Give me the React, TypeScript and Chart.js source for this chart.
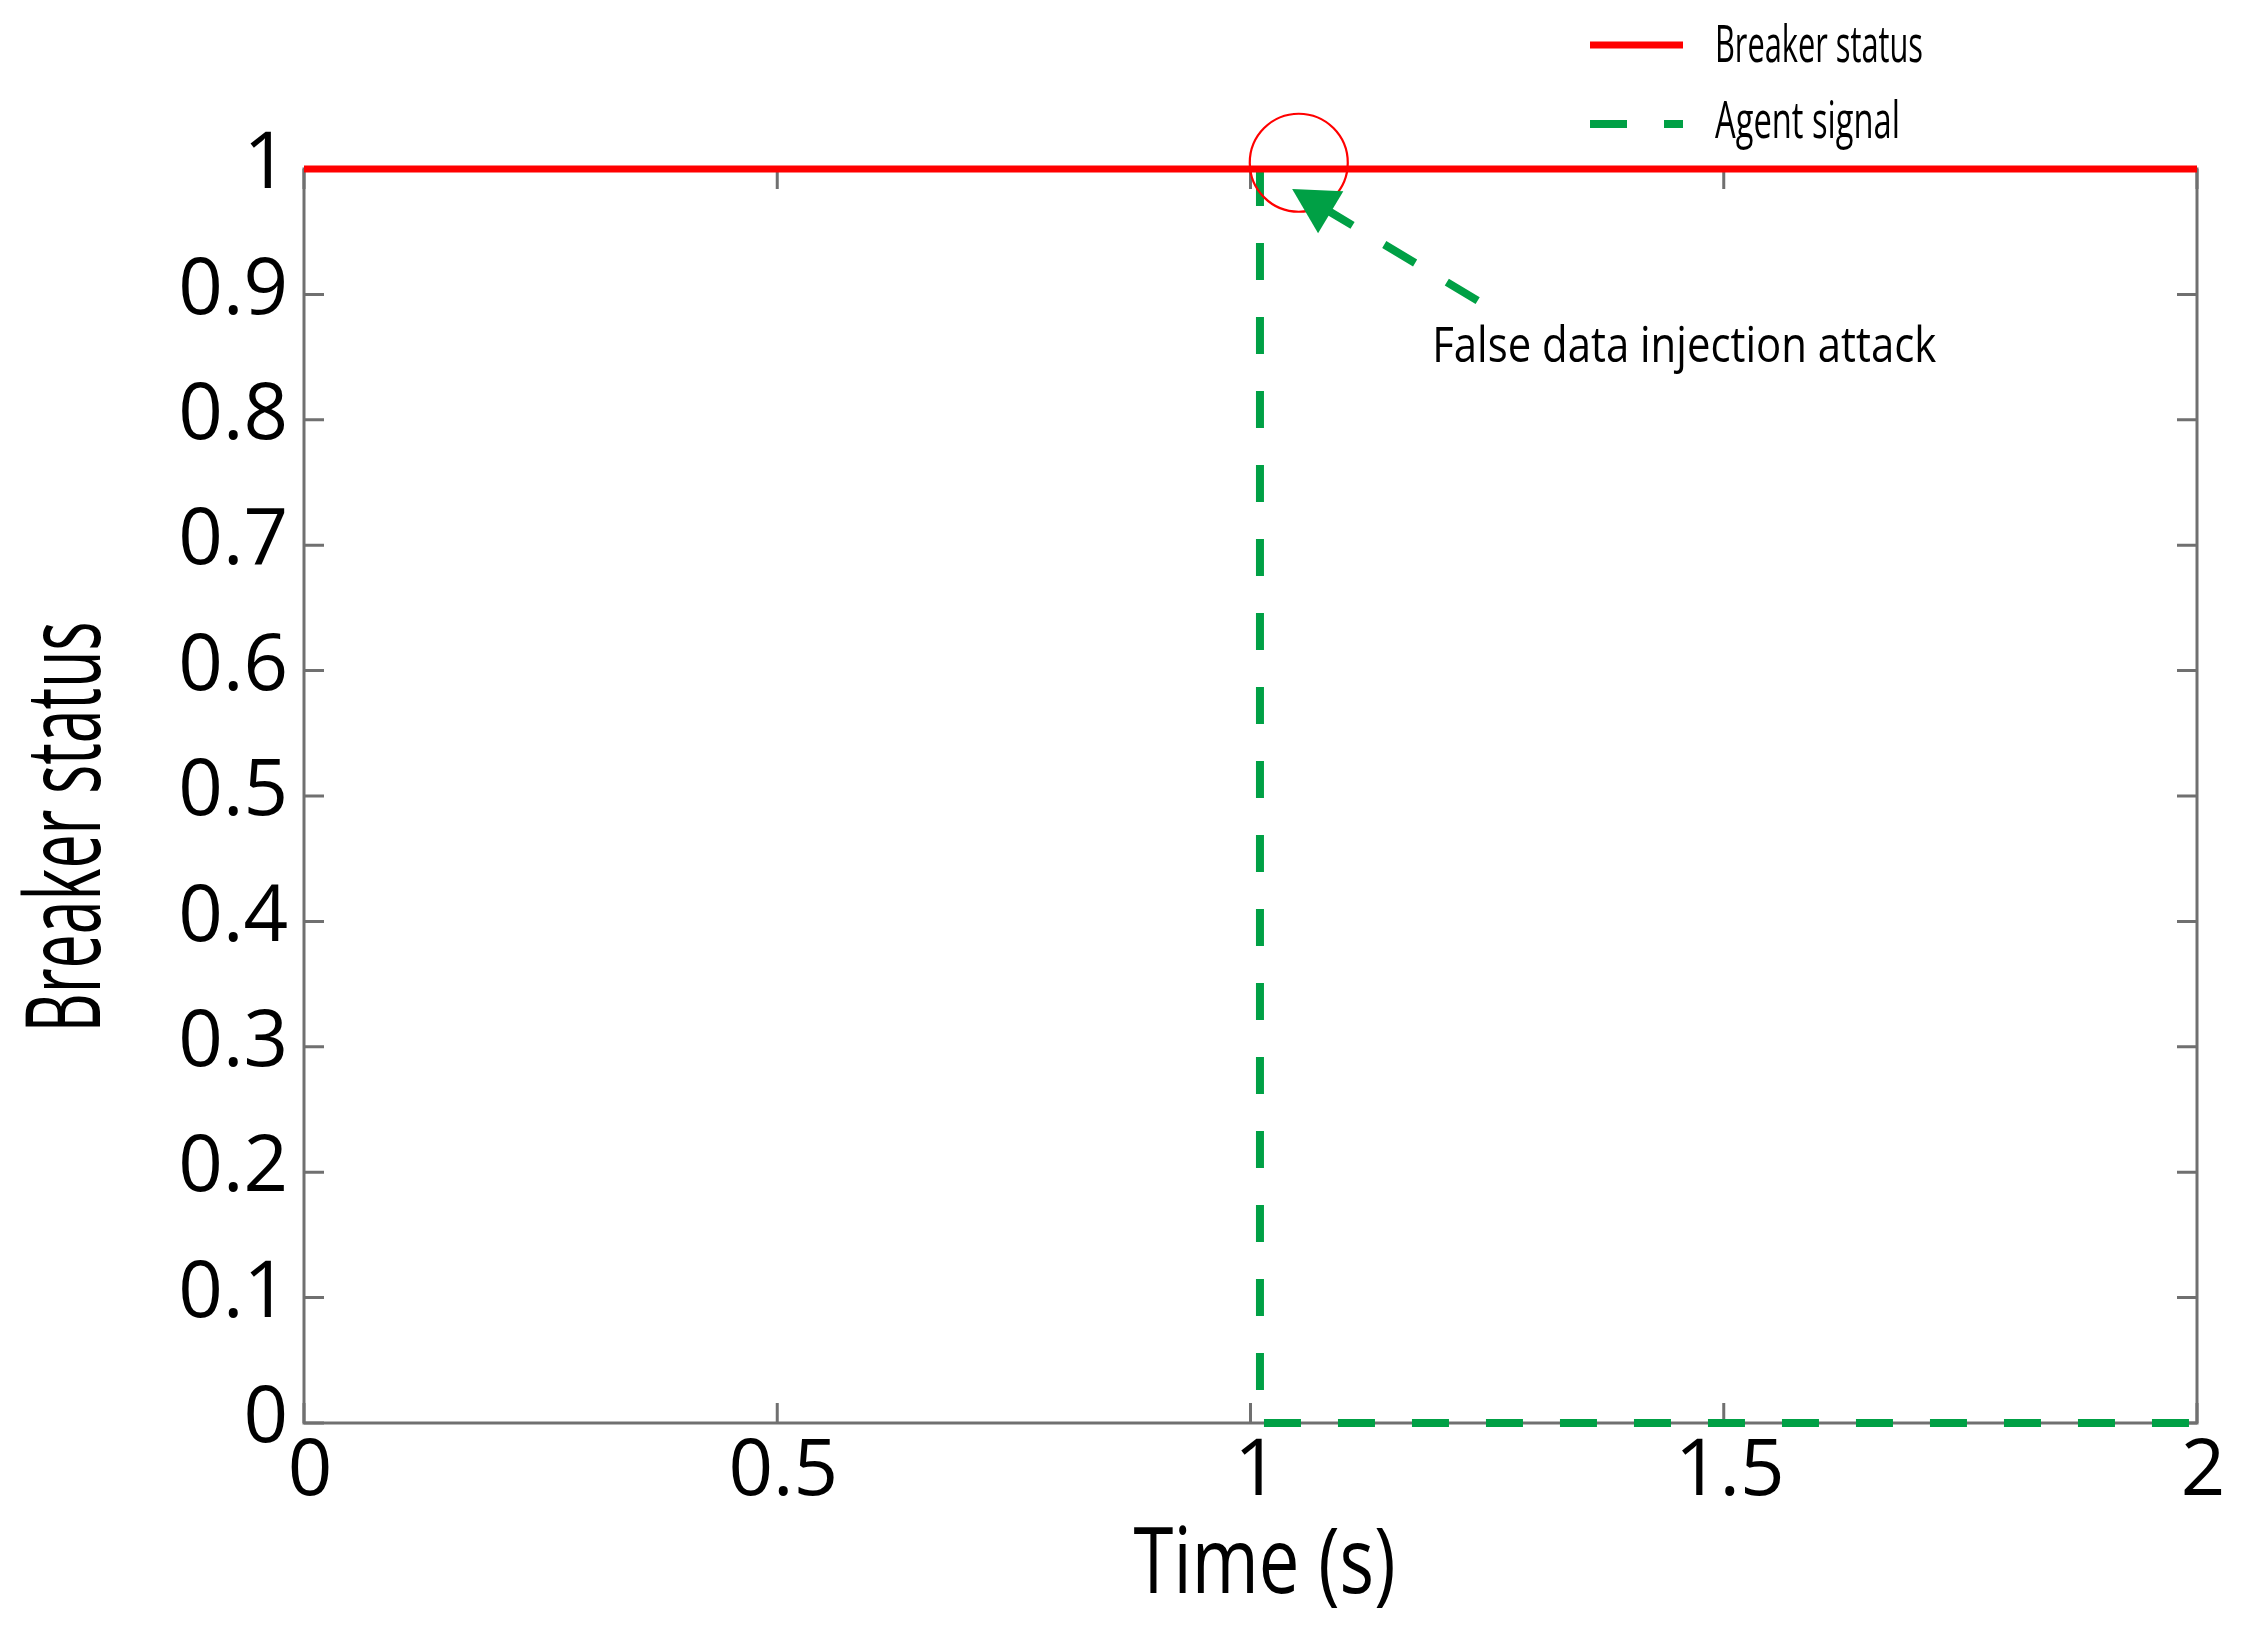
import React, { useEffect, useRef } from 'react';
import { Chart, registerables } from 'chart.js';

Chart.register(...registerables);

// ---- data ----
const TIME_BREAKER = [0, 2];
const BREAKER_STATUS = [1, 1];
const TIME_AGENT = [1.01, 1.01, 2];
const AGENT_SIGNAL = [1, 0, 0];
const SERIES_LABELS = ['Breaker status', 'Agent signal'];
const X_TICKS = [0, 0.5, 1, 1.5, 2];
const X_TICK_LABELS = ['0', '0.5', '1', '1.5', '2'];
const Y_TICKS = [0, 0.1, 0.2, 0.3, 0.4, 0.5, 0.6, 0.7, 0.8, 0.9, 1];
const Y_TICK_LABELS = ['0', '0.1', '0.2', '0.3', '0.4', '0.5', '0.6', '0.7', '0.8', '0.9', '1'];
const X_TITLE = 'Time (s)';
const Y_TITLE = 'Breaker status';
const ANNOTATION_TEXT = 'False data injection attack';
const CIRCLE_AT = [1.051, 1.005];
const ARROW_FROM = [1.24, 0.895];
const ARROW_TO = [1.044, 0.984];
const TEXT_AT = [1.192, 0.846];

// ---- styles ----
const FONT = "'Open Sans', sans-serif";
const RED = '#ff0000';
const GREEN = '#00a045';
const FRAME = '#707070';

function drawFitted(
  ctx: CanvasRenderingContext2D,
  text: string,
  x: number,
  y: number,
  size: number,
  width: number,
  align: CanvasTextAlign,
  rotate = false
) {
  ctx.save();
  ctx.font = `${size}px ${FONT}`;
  const w = ctx.measureText(text).width;
  ctx.translate(x, y);
  if (rotate) ctx.rotate(-Math.PI / 2);
  ctx.scale(width / w, 1);
  ctx.textAlign = align;
  ctx.textBaseline = 'alphabetic';
  ctx.fillStyle = '#000';
  ctx.fillText(text, 0, 0);
  ctx.restore();
}

const framePlugin = {
  id: 'frameTicks',
  beforeDatasetsDraw(chart: any) {
    const { ctx, chartArea: a, scales } = chart;
    const tl = 20;
    ctx.save();
    ctx.strokeStyle = FRAME;
    ctx.lineWidth = 3;
    ctx.strokeRect(a.left, a.top, a.right - a.left, a.bottom - a.top);
    ctx.beginPath();
    X_TICKS.forEach((v) => {
      const px = scales.x.getPixelForValue(v);
      ctx.moveTo(px, a.bottom);
      ctx.lineTo(px, a.bottom - tl);
      ctx.moveTo(px, a.top);
      ctx.lineTo(px, a.top + tl);
    });
    Y_TICKS.forEach((v) => {
      const py = scales.y.getPixelForValue(v);
      ctx.moveTo(a.left, py);
      ctx.lineTo(a.left + tl, py);
      ctx.moveTo(a.right, py);
      ctx.lineTo(a.right - tl, py);
    });
    ctx.stroke();
    ctx.restore();
  },
};

const overlayPlugin = {
  id: 'overlay',
  afterDatasetsDraw(chart: any) {
    const { ctx, chartArea: a, scales } = chart;
    const X = (v: number) => scales.x.getPixelForValue(v);
    const Y = (v: number) => scales.y.getPixelForValue(v);

    // annotation circle
    ctx.save();
    ctx.strokeStyle = RED;
    ctx.lineWidth = 2.2;
    ctx.beginPath();
    ctx.arc(X(CIRCLE_AT[0]), Y(CIRCLE_AT[1]), 49, 0, Math.PI * 2);
    ctx.stroke();

    // arrow
    const tx = X(ARROW_FROM[0]);
    const ty = Y(ARROW_FROM[1]);
    const hx = X(ARROW_TO[0]);
    const hy = Y(ARROW_TO[1]);
    const dx = hx - tx;
    const dy = hy - ty;
    const len = Math.hypot(dx, dy);
    const ux = dx / len;
    const uy = dy / len;
    const headLen = 45;
    const headW = 49;
    const bx = hx - ux * headLen;
    const by = hy - uy * headLen;
    ctx.strokeStyle = GREEN;
    ctx.lineWidth = 8;
    ctx.setLineDash([36, 37]);
    ctx.beginPath();
    ctx.moveTo(tx, ty);
    ctx.lineTo(bx + ux * 4, by + uy * 4);
    ctx.stroke();
    ctx.setLineDash([]);
    ctx.fillStyle = GREEN;
    ctx.beginPath();
    ctx.moveTo(hx, hy);
    ctx.lineTo(bx - uy * headW / 2, by + ux * headW / 2);
    ctx.lineTo(bx + uy * headW / 2, by - ux * headW / 2);
    ctx.closePath();
    ctx.fill();
    ctx.restore();

    // annotation text
    drawFitted(ctx, ANNOTATION_TEXT, X(TEXT_AT[0]), Y(TEXT_AT[1]), 49, 504, 'left');

    // legend
    const ds = chart.data.datasets;
    const rows = [45, 124];
    const textBase = [62, 138];
    const textW = [208, 185];
    ds.forEach((d: any, i: number) => {
      ctx.save();
      ctx.strokeStyle = d.borderColor;
      ctx.lineWidth = d.borderWidth;
      ctx.setLineDash(d.borderDash || []);
      ctx.beginPath();
      ctx.moveTo(1590, rows[i]);
      ctx.lineTo(1683, rows[i]);
      ctx.stroke();
      ctx.restore();
      drawFitted(ctx, d.label, 1715, textBase[i], 52, textW[i], 'left');
    });

    // axis titles
    drawFitted(ctx, scales.x.options.title.text, (a.left + a.right) / 2 + 14, 1593, 92, 262, 'center');
    drawFitted(ctx, scales.y.options.title.text, 100, 827, 105, 411, 'center', true);
  },
};

export default function App() {
  const ref = useRef<HTMLCanvasElement | null>(null);

  useEffect(() => {
    document.body.style.margin = '0';
    const canvas = ref.current!;
    const chart = new Chart(canvas, {
      type: 'line',
      data: {
        datasets: [
          {
            label: SERIES_LABELS[0],
            data: TIME_BREAKER.map((t, i) => ({ x: t, y: BREAKER_STATUS[i] })),
            borderColor: RED,
            backgroundColor: RED,
            borderWidth: 7,
            pointRadius: 0,
            tension: 0,
            clip: false,
          },
          {
            label: SERIES_LABELS[1],
            data: TIME_AGENT.map((t, i) => ({ x: t, y: AGENT_SIGNAL[i] })),
            borderColor: GREEN,
            backgroundColor: GREEN,
            borderWidth: 8,
            borderDash: [37, 37],
            pointRadius: 0,
            tension: 0,
            clip: false,
          },
        ],
      },
      options: {
        animation: false,
        responsive: false,
        devicePixelRatio: 1,
        layout: { padding: { left: 0, right: 62, top: 169, bottom: 0 } },
        plugins: {
          legend: { display: false },
          tooltip: { enabled: false },
        },
        scales: {
          x: {
            type: 'linear',
            min: 0,
            max: 2,
            grid: { display: false, drawTicks: false },
            border: { display: false },
            title: { display: false, text: X_TITLE },
            afterBuildTicks: (s: any) => {
              s.ticks = X_TICKS.map((v) => ({ value: v }));
            },
            afterFit: (s: any) => {
              s.height = 217;
            },
            ticks: {
              padding: 3,
              labelOffset: 6,
              color: '#000',
              maxRotation: 0,
              font: { family: FONT, size: 78 },
              callback: (_v: any, i: number) => X_TICK_LABELS[i],
            },
          },
          y: {
            type: 'linear',
            min: 0,
            max: 1,
            grid: { display: false, drawTicks: false },
            border: { display: false },
            title: { display: false, text: Y_TITLE },
            afterBuildTicks: (s: any) => {
              s.ticks = Y_TICKS.map((v) => ({ value: v }));
            },
            afterFit: (s: any) => {
              s.width = 304;
            },
            ticks: {
              padding: 16,
              labelOffset: -3,
              color: '#000',
              font: { family: FONT, size: 78 },
              callback: (_v: any, i: number) => Y_TICK_LABELS[i],
            },
          },
        },
      },
      plugins: [framePlugin, overlayPlugin],
    } as any);
    return () => chart.destroy();
  }, []);

  return (
    <div style={{ width: 2259, height: 1640, background: '#fff' }}>
      <canvas ref={ref} width={2259} height={1640} style={{ display: 'block' }} />
    </div>
  );
}
